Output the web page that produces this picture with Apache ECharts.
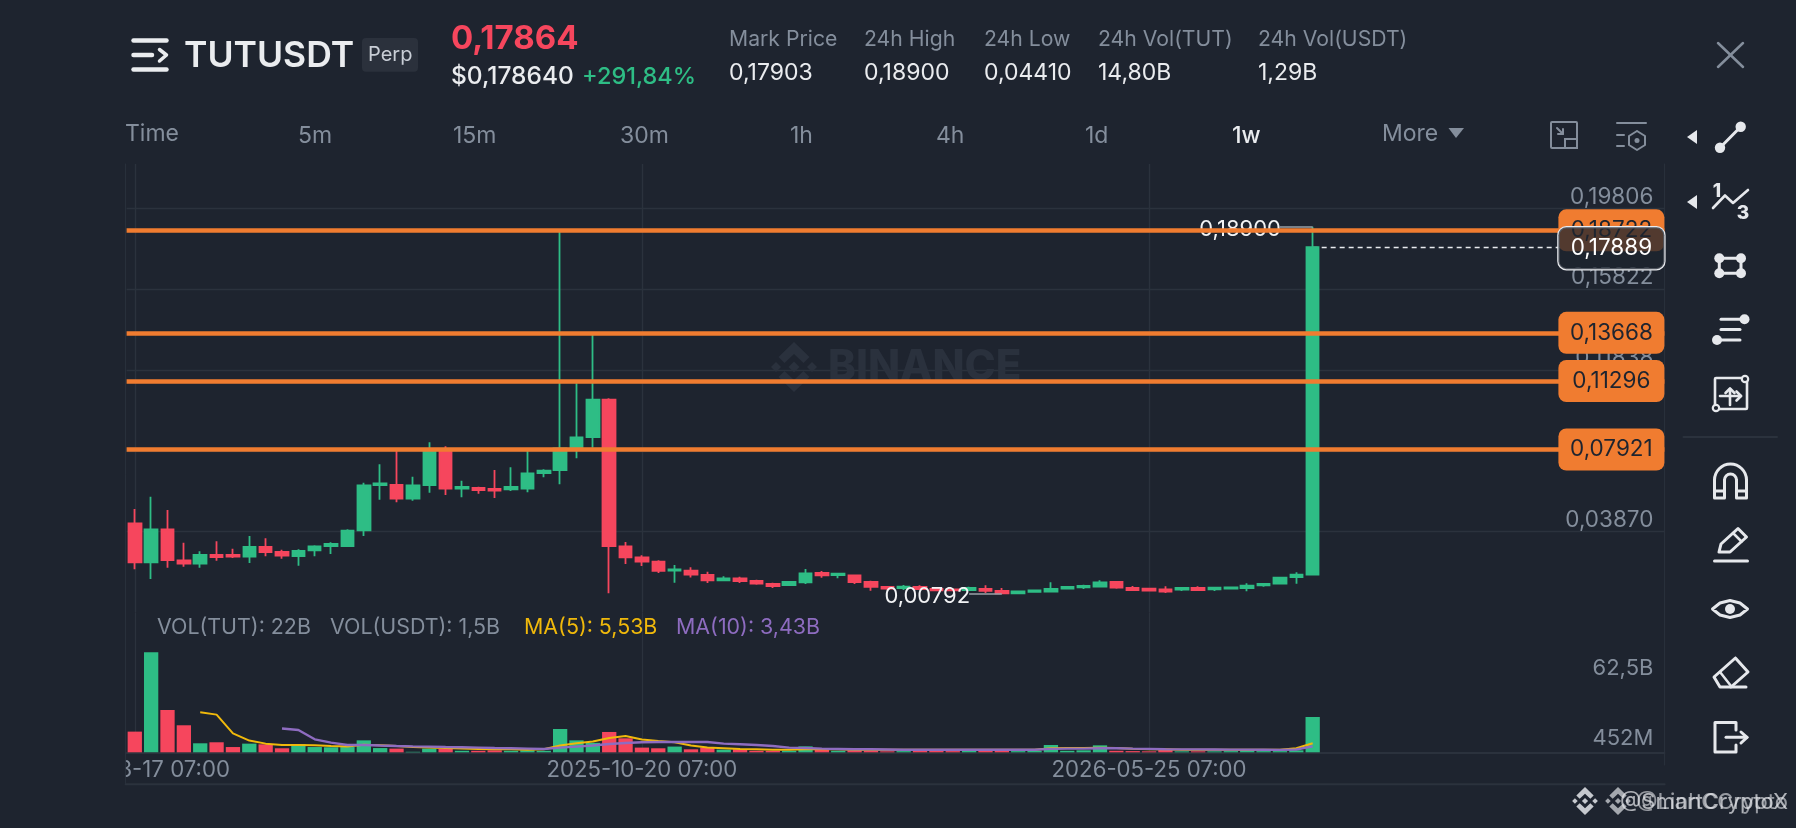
<!DOCTYPE html>
<html><head><meta charset="utf-8">
<style>html,body{margin:0;padding:0;background:#1e242f}#c{width:1796px;height:828px}</style>
<script src="https://cdn.jsdelivr.net/npm/echarts@6/dist/echarts.min.js"></script>
</head><body><div id="c"></div>
<script>
const weekDates=['2025-03-17','2025-03-24','2025-03-31','2025-04-07','2025-04-14','2025-04-21','2025-04-28','2025-05-05','2025-05-12','2025-05-19','2025-05-26','2025-06-02','2025-06-09','2025-06-16','2025-06-23','2025-06-30','2025-07-07','2025-07-14','2025-07-21','2025-07-28','2025-08-04','2025-08-11','2025-08-18','2025-08-25','2025-09-01','2025-09-08','2025-09-15','2025-09-22','2025-09-29','2025-10-06','2025-10-13','2025-10-20','2025-10-27','2025-11-03','2025-11-10','2025-11-17','2025-11-24','2025-12-01','2025-12-08','2025-12-15','2025-12-22','2025-12-29','2026-01-05','2026-01-12','2026-01-19','2026-01-26','2026-02-02','2026-02-09','2026-02-16','2026-02-23','2026-03-02','2026-03-09','2026-03-16','2026-03-23','2026-03-30','2026-04-06','2026-04-13','2026-04-20','2026-04-27','2026-05-04','2026-05-11','2026-05-18','2026-05-25','2026-06-01','2026-06-08','2026-06-15','2026-06-22','2026-06-29','2026-07-06','2026-07-13','2026-07-20','2026-07-27','2026-08-03'];
const emptySlots=21;
const timeTicks=['2025-03-17','2025-10-20','2026-05-25'];
// [open, close, low, high]
const ohlc=[[.04282,.02361,.02016,.04989],[.02361,.03987,.01540,.05597],[.03987,.02476,.02098,.04940],[.02460,.02296,.02148,.03330],[.02296,.02723,.02098,.02903],[.02723,.02624,.02443,.03396],[.02723,.02641,.02575,.03035],[.02641,.03117,.02329,.03658],[.03117,.02870,.02657,.03544],[.02870,.02690,.02542,.02985],
[.02673,.02920,.02197,.03002],[.02953,.03150,.02657,.03199],[.03166,.03265,.02772,.03347],[.03166,.03921,.03133,.03987],[.03938,.06155,.03658,.06287],[.06172,.06254,.05449,.07190],[.06172,.05498,.05318,.07929],[.05498,.06155,.05400,.06583],[.06172,.07896,.05794,.08274],[.07896,.05991,.05679,.08077],
[.05991,.06073,.05564,.06385],[.06024,.05925,.05745,.06090],[.05975,.05893,.05531,.06911],[.05958,.06073,.05876,.07042],[.05991,.06747,.05810,.07896],[.06763,.06878,.06550,.06944],[.06911,.07978,.06205,.18722],[.08027,.08521,.07485,.11181],[.08537,.10376,.08011,.13668],[.10376,.03166,.00833,.10442],
[.03150,.02608,.02280,.03363],[.02608,.02395,.02181,.02706],[.02395,.01935,.01837,.02460],[.01952,.02017,.01359,.02231],[.01952,.01755,.01607,.02116],[.01736,.01474,.01342,.01900],[.01474,.01572,.01425,.01670],[.01572,.01441,.01342,.01654],[.01441,.01310,.01260,.01507],[.01293,.01195,.01096,.01359],
[.01244,.01392,.01211,.01441],[.01375,.01818,.01293,.02031],[.01834,.01720,.01605,.01933],[.01736,.01802,.01572,.01851],[.01720,.01392,.01293,.01736],[.01392,.01146,.00965,.01457],[.01146,.01064,.00998,.01195],[.01096,.01162,.00998,.01244],[.01146,.01047,.00998,.01228],[.01047,.00982,.00949,.01080],
[.01031,.00982,.00932,.01064],[.00998,.01096,.00949,.01162],[.01047,.00949,.00850,.01228],[.00949,.00834,.00792,.01096],[.00834,.00932,.00818,.00965],[.00900,.00982,.00867,.01014],[.00916,.01047,.00900,.01375],[.01064,.01146,.01031,.01195],[.01129,.01195,.01047,.01260],[.01162,.01375,.01129,.01474],
[.01392,.01113,.01064,.01441],[.01096,.00998,.00965,.01195],[.01064,.00965,.00932,.01096],[.01031,.00916,.00850,.01178],[.01014,.01096,.00949,.01129],[.01096,.00998,.00965,.01178],[.01031,.01113,.00949,.01146],[.01064,.01129,.01031,.01146],[.01096,.01211,.00932,.01326],[.01228,.01293,.01162,.01342],
[.01310,.01605,.01277,.01638],[.01638,.01752,.01310,.01867],[.01752,.17889,.01720,.18900]];
const volume=[18.7,88.7,37.8,24.3,8.4,9.3,5.1,8.1,7.5,4.0,7.8,5.1,4.9,5.1,11.0,4.2,3.7,0.9,3.7,3.5,1.8,1.8,2.2,1.8,2.2,1.8,21.0,11.0,8.8,18.4,12.8,4.6,4.0,5.5,3.1,4.6,2.8,3.1,1.8,1.8,1.8,5.7,2.5,1.8,2.2,1.8,1.3,1.5,1.8,1.8,1.5,1.8,2.2,2.2,1.5,1.8,6.9,1.8,2.2,6.6,1.8,1.5,1.3,3.1,1.3,1.3,1.3,1.5,3.1,1.5,1.5,2.2,31.6];
const ma5=['-','-','-','-',35.8,33.7,17.2,10.8,8.1,6.9,6.9,6.6,6.0,5.5,7.2,6.6,6.0,5.1,4.6,4.2,3.7,3.4,3.1,3.1,2.8,3.1,6.4,8.4,9.9,13.1,14.8,11.7,10.4,9.3,6.4,4.6,4.0,3.4,3.1,2.8,2.8,3.1,3.4,3.1,2.8,2.7,2.7,2.7,2.7,2.7,2.7,2.7,2.7,2.7,2.7,2.7,4.0,4.2,4.2,4.4,4.2,3.5,3.1,3.1,2.8,2.8,2.7,2.7,2.8,2.8,2.7,4.0,8.4];
const ma10=['-','-','-','-','-','-','-','-','-',21.4,20.1,11.9,9.0,6.9,6.9,6.4,6.0,5.7,5.5,5.1,4.9,4.6,4.2,4.0,3.7,3.4,4.6,5.5,6.4,7.8,8.7,9.3,9.5,9.5,9.5,9.5,8.1,7.5,6.9,6.0,4.6,4.2,3.7,3.4,3.1,3.1,2.9,2.7,2.7,2.7,2.7,2.7,2.7,2.7,2.7,2.7,3.5,3.7,3.7,4.0,4.0,3.7,3.5,3.1,3.0,3.0,2.9,2.8,2.8,2.7,2.6,2.9,5.7];
const priceTicks=[.19806,.15822,.11838,.07854,.03870];
const priceLabelTicks=[.19806,.15822,.11838,.03870];
const priceMin=-.00102, priceMax=.21989;
const levels=[.18722,.13668,.11296,.07921];
const lastPrice=.17889, highPrice=.18900, lowPrice=.00792;
const volTicks=[.452,62.5];
const volLabels={'0.452':'452M','62.5':'62,5B'};

const BG='#1e242f',GRID='#2b323d',UP='#2ebd85',DOWN='#f6465d',ORANGE='#f07c30',GREY='#848e9c',WHITE='#eaecef',FONT='Inter';
const comma=v=>Number(v).toFixed(5).replace('.',',');
const cats=weekDates.concat(Array(emptySlots).fill(''));
const lastIdx=ohlc.length-1, endIdx=cats.length-1;
const lowIdx=53;

// ---- page chrome helpers
const G=[];
const T=(text,x,y,size,fill,weight,align)=>G.push({type:'text',z:100,style:{text,x,y,font:`${weight||400} ${size}px ${FONT}`,fill,textAlign:align||'left',textVerticalAlign:'middle'}});
const P=(pts,stroke,w,z)=>G.push({type:'polyline',z:z||100,shape:{points:pts},style:{stroke,lineWidth:w,fill:null,lineCap:'round',lineJoin:'round'}});
const F=(pts,fill,z)=>G.push({type:'polygon',z:z||100,shape:{points:pts},style:{fill}});
const C=(cx,cy,r,fill,stroke,w)=>G.push({type:'circle',z:100,shape:{cx,cy,r},style:{fill:fill||null,stroke:stroke||null,lineWidth:w||0}});
const R=(x,y,width,height,fill,r,stroke,w,z)=>G.push({type:'rect',z:z||100,shape:{x,y,width,height,r:r||0},style:{fill:fill||null,stroke:stroke||null,lineWidth:w||0}});
const A=(cx,cy,r,a,b,stroke,w)=>G.push({type:'arc',z:100,shape:{cx,cy,r,startAngle:a,endAngle:b,clockwise:true},style:{stroke,lineWidth:w,fill:null}});
function logo(cx,cy,s,fill,z){
  const d=(x,y,r)=>F([[cx+x*s,cy+(y-r)*s],[cx+(x+r)*s,cy+y*s],[cx+x*s,cy+(y+r)*s],[cx+(x-r)*s,cy+y*s]],fill,z);
  d(0,0,.22);d(-.72,0,.2);d(.72,0,.2);
  const chev=(sgn)=>{F([[cx,cy+sgn*1*s],[cx+.62*s,cy+sgn*.4*s],[cx+.38*s,cy+sgn*.16*s],[cx,cy+sgn*.52*s],[cx-.38*s,cy+sgn*.16*s],[cx-.62*s,cy+sgn*.4*s]],fill,z);};
  chev(-1);chev(1);
}
// watermark in the plot
logo(794,367,25,'#2a313d',1);
G.push({type:'text',z:1,style:{text:'BINANCE',x:828,y:367,font:`800 42px ${FONT}`,fill:'#2a313d',textAlign:'left',textVerticalAlign:'middle'}});
// plot frame
P([[125.6,164],[125.6,784.3]],GRID,1,1);
P([[1664.6,164],[1664.6,765]],GRID,1,1);
P([[125.6,784.3],[1664.6,784.3]],GRID,2,1);
// cover that clips the first time label at the plot edge
R(0,756,125,28,BG,0,null,0,60);
// header
P([[133.5,40.5],[166.5,40.5]],WHITE,4.5);P([[133.5,55],[152,55]],WHITE,4.5);P([[159.5,49.5],[166.5,55],[159.5,61]],WHITE,3.5);P([[133.5,69.5],[166.5,69.5]],WHITE,4.5);
T('TUTUSDT',184,56.5,35.5,WHITE,600);
R(362,38,56,33.7,'#2b313c',4);T('Perp',368,55,20,'#c9ced6');
T('0,17864',451,39,33,DOWN,700);
T('$0,178640',451,77,24.5,WHITE,500);
T('+291,84%',582,77,23.5,UP,500);
const stats=[['Mark Price','0,17903',729],['24h High','0,18900',864],['24h Low','0,04410',984],['24h Vol(TUT)','14,80B',1098],['24h Vol(USDT)','1,29B',1258]];
stats.forEach(s=>{T(s[0],s[2],40,21.2,GREY);T(s[1],s[2],73,23,WHITE);});
P([[1718,43],[1743,67]],GREY,2.5);P([[1743,43],[1718,67]],GREY,2.5);
// tabs
[['Time',125,134,GREY],['5m',298,136.5,GREY],['15m',453,136.5,GREY],['30m',620,136.5,GREY],['1h',790,136.5,GREY],['4h',936,136.5,GREY],['1d',1085,136.5,GREY],['1w',1232,136.5,WHITE],['More',1382,134,GREY]].forEach(t=>T(t[0],t[1],t[2],23,t[3],t[3]===WHITE?500:400));
F([[1448.5,128],[1464,128],[1456,138]],GREY);
R(1551,122,26,26,null,1,GREY,2);R(1565,139,12,9,BG,0,GREY,2);P([[1557,128],[1563,134]],GREY,2);P([[1563,129],[1563,134],[1558,134]],GREY,2);
P([[1617,123],[1646,123]],GREY,2);P([[1617,135],[1624,135]],GREY,2);P([[1617,146],[1624,146]],GREY,2);
P([[1637,131],[1645,136],[1645,145],[1637,150],[1629,145],[1629,136],[1637,131]],GREY,2);C(1637,140.5,2.5,GREY);
// toolbar
const I='#e6e8ec';
F([[1687,137],[1697,130],[1697,144]],I);F([[1687,202],[1697,195],[1697,209]],I);
P([[1720,147.7],[1740.7,126.7]],I,3);C(1720,147.7,5.2,I);C(1740.7,126.7,5.2,I);
T('1',1717,191,19,I,800,'center');T('3',1743,213,19,I,800,'center');P([[1713,208],[1725,195.5],[1733,203],[1748,190]],I,2.6);
P([[1719.3,258.3],[1741,258.3],[1741,273.3],[1719.3,273.3],[1719.3,258.3]],I,3);[[1719.3,258.3],[1741,258.3],[1719.3,273.3],[1741,273.3]].forEach(c=>C(c[0],c[1],5,I));
P([[1721,319.3],[1745,319.3]],I,3);C(1744.5,319.3,5,I);P([[1721,329.5],[1740,329.5]],I,3);P([[1717,340],[1740,340]],I,3);C(1717,340,5,I);
R(1715,378,32,31,null,1,I,2.6);C(1745,379,3.2,BG,I,2.2);C(1716,408,3.2,BG,I,2.2);P([[1730,389],[1730,405]],I,2.6);P([[1725.5,393],[1730,388.5],[1734.5,393]],I,2.6);P([[1720,396],[1741,396]],I,2.6);P([[1736.5,391.5],[1741,396],[1736.5,400.5]],I,2.6);
P([[1683.5,437],[1777,437]],GRID,2);
A(1730.5,480,16,Math.PI,2*Math.PI,I,3);A(1730.5,480,6,Math.PI,2*Math.PI,I,3);
P([[1714.5,480],[1714.5,498],[1724.5,498],[1724.5,480]],I,3);P([[1736.5,480],[1736.5,498],[1746.5,498],[1746.5,480]],I,3);P([[1714.5,491],[1724.5,491]],I,3);P([[1736.5,491],[1746.5,491]],I,3);
P([[1719,552],[1721,544],[1738,528.5],[1746.5,537],[1730,552],[1719,552]],I,3);P([[1733,533],[1741.5,541.5]],I,2.5);P([[1714.5,561],[1747.5,561]],I,3);
P([[1712.5,609],[1720,603],[1730,600.5],[1740,603],[1747.5,609],[1740,615],[1730,617.5],[1720,615],[1712.5,609]],I,3);C(1730,609,5,I);
P([[1735.4,658],[1748,672],[1731,687],[1720,687],[1714,677],[1735.4,658]],I,3);P([[1720,672],[1731,686]],I,2.5);P([[1731,687],[1746,687]],I,3);
P([[1736,730],[1736,722.5],[1715,722.5],[1715,752],[1736,752],[1736,745]],I,3);P([[1726,737.3],[1747,737.3]],I,3);P([[1741,732],[1747,737.3],[1741,743]],I,3);
// pane legend
T('VOL(TUT): 22B',157,628,21.4,GREY);T('VOL(USDT): 1,5B',330,628,21.4,GREY);T('MA(5): 5,53B',524,628,21.4,'#f0b90b');T('MA(10): 3,43B',676,628,21.4,'#8e6cc0');
// corner watermark
logo(1585,801,14,'#c6c9ce');logo(1618,801,14,'rgba(198,201,206,.8)');
T('@SmartCryptoX',1788,802,22,'rgba(230,232,236,.72)',400,'right');T('@LinhCCrypto',1788,802,22,'rgba(230,232,236,.6)',400,'right');

const lineBase={silent:true,symbol:'none',animation:false,precision:5};
const tagLabel=(textColor)=>({show:true,position:'insideEnd',distance:0,fontFamily:FONT,borderRadius:8,padding:[0,11,0,11],align:'right',verticalAlign:'middle',formatter:p=>'{t|'+comma(p.value)+'}',
  rich:{t:{width:84,height:42,lineHeight:42,align:'center',verticalAlign:'middle',fontSize:22.5,fontFamily:FONT,color:textColor}}});
const option={
  backgroundColor:BG,animation:false,
  textStyle:{fontFamily:FONT},
  grid:[{left:126.6,width:1537.8,top:164,height:448.3},{left:126.6,width:1537.8,top:612.3,height:140}],
  xAxis:[
    {type:'category',gridIndex:0,data:cats,boundaryGap:true,axisLine:{show:false},axisTick:{show:false},axisLabel:{show:false},splitLine:{show:false}},
    {type:'category',gridIndex:1,data:cats,boundaryGap:true,axisLine:{show:true,lineStyle:{color:GRID,width:2}},axisTick:{show:false},splitLine:{show:false},
     axisLabel:{color:GREY,fontSize:22.2,fontFamily:FONT,margin:7,hideOverlap:false,interval:(i,v)=>timeTicks.includes(v),formatter:v=>v+' 07:00'}}
  ],
  yAxis:[
    {type:'value',gridIndex:0,position:'right',min:priceMin,max:priceMax,splitLine:{show:false},axisLine:{show:false},axisTick:{show:false},
     axisLabel:{inside:true,margin:11,color:GREY,fontSize:22.5,fontFamily:FONT,verticalAlign:'bottom',customValues:priceLabelTicks,formatter:comma}},
    {type:'value',gridIndex:1,position:'right',min:volTicks[0],max:124,splitLine:{show:false},axisLine:{show:false},axisTick:{show:false},
     axisLabel:{inside:true,margin:11,color:GREY,fontSize:22,fontFamily:FONT,verticalAlign:'bottom',padding:[0,0,2.5,0],customValues:volTicks,showMinLabel:true,formatter:v=>volLabels[String(v)]}}
  ],
  series:[
    {type:'line',name:'gridlines',xAxisIndex:0,yAxisIndex:0,data:[],z:0,
     markLine:{...lineBase,z:0,label:{show:false},lineStyle:{color:GRID,width:1.4,type:'solid'},
       data:priceTicks.map(v=>({yAxis:v})).concat(timeTicks.map(d=>({xAxis:d})))}},
    {type:'line',name:'volgrid',xAxisIndex:1,yAxisIndex:1,data:[],z:0,
     markLine:{...lineBase,z:0,label:{show:false},lineStyle:{color:GRID,width:1.2,type:'solid'},data:timeTicks.map(d=>({xAxis:d}))}},
    {type:'line',name:'lastline',xAxisIndex:0,yAxisIndex:0,data:[],z:1,
     markLine:{...lineBase,z:1,label:{show:false},lineStyle:{color:'#e8eaee',width:1.3,type:[5,4]},
       data:[[{coord:[lastIdx,lastPrice]},{coord:[endIdx,lastPrice]}]]}},
    {type:'candlestick',name:'TUTUSDT',xAxisIndex:0,yAxisIndex:0,data:ohlc,barWidth:13,z:2,
     itemStyle:{color:UP,color0:DOWN,borderColor:UP,borderColor0:DOWN,borderWidth:1.8},
     markLine:{...lineBase,z:4,lineStyle:{color:'#9aa0a8',width:1.5,type:'solid'},
       label:{show:true,position:'end',distance:-1,offset:[0,2.5],color:'#f2f3f5',fontSize:22,fontFamily:FONT,formatter:p=>comma(p.data.val)},
       data:[[{coord:[lastIdx,highPrice],val:highPrice},{coord:[lastIdx-2,highPrice],val:highPrice}],
             [{coord:[lowIdx,lowPrice],val:lowPrice},{coord:[lowIdx-2,lowPrice],val:lowPrice}]]}},
    {type:'line',name:'levels',xAxisIndex:0,yAxisIndex:0,data:[],z:5,
     markLine:{...lineBase,z:5,lineStyle:{color:ORANGE,width:4.5,type:'solid'},
       label:{...tagLabel('#1e242f'),backgroundColor:ORANGE},
       data:levels.map(v=>({yAxis:v}))}},
    {type:'line',name:'lastbox',xAxisIndex:0,yAxisIndex:0,data:[],z:6,
     markLine:{...lineBase,z:6,lineStyle:{color:'rgba(0,0,0,0)',width:0},
       label:{...tagLabel('#ffffff'),backgroundColor:'rgba(30,36,47,.75)',borderColor:'#e8eaee',borderWidth:1.2,offset:[0,1]},
       data:[{yAxis:lastPrice}]}},
    {type:'bar',name:'VOL',xAxisIndex:1,yAxisIndex:1,barWidth:14.3,z:2,
     data:volume.map((v,i)=>({value:v,itemStyle:{color:ohlc[i][1]>=ohlc[i][0]?UP:DOWN}}))},
    {type:'line',name:'MA(5)',xAxisIndex:1,yAxisIndex:1,data:ma5,showSymbol:false,z:3,lineStyle:{color:'#f0b90b',width:2}},
    {type:'line',name:'MA(10)',xAxisIndex:1,yAxisIndex:1,data:ma10,showSymbol:false,z:3,lineStyle:{color:'#8e6cc0',width:2.4}}
  ],
  graphic:G
};
const chart=echarts.init(document.getElementById('c'),null,{renderer:'canvas'});
chart.setOption(option);
</script></body></html>
